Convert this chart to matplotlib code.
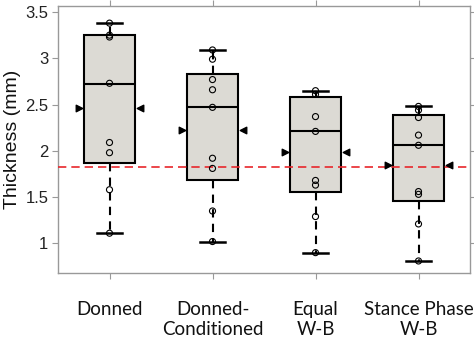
import matplotlib.pyplot as plt
import numpy as np

# conditions and read-off values (mm)
labels = ["Donned", "Donned-\nConditioned", "Equal\nW-B", "Stance Phase\nW-B"]
q1 = [1.87, 1.69, 1.56, 1.46]
med = [2.72, 2.47, 2.21, 2.06]
q3 = [3.25, 2.83, 2.58, 2.39]
whislo = [1.11, 1.02, 0.90, 0.81]
whishi = [3.38, 3.09, 2.65, 2.48]
means = [2.46, 2.23, 1.99, 1.85]
points = [
    [3.38, 3.25, 3.23, 2.73, 2.09, 1.98, 1.58, 1.11],
    [3.09, 2.99, 2.77, 2.66, 2.47, 1.92, 1.81, 1.35, 1.02],
    [2.65, 2.61, 2.37, 2.21, 1.68, 1.63, 1.29, 0.90],
    [2.48, 2.44, 2.36, 2.17, 2.06, 1.56, 1.53, 1.21, 0.81],
]
ref_line = 1.83

plt.rcParams['font.family'] = ['Liberation Sans', 'DejaVu Sans']

fig = plt.figure(figsize=(4.74, 3.38), dpi=100)
ax = fig.add_axes([58/474, 1 - 273/338, 412/474, 267/338])

pos = np.arange(1, len(labels) + 1)
stats = []
for i in range(len(labels)):
    stats.append(dict(med=med[i], q1=q1[i], q3=q3[i], whislo=whislo[i], whishi=whishi[i], fliers=[]))

ax.bxp(stats, positions=pos, widths=0.5, patch_artist=True, showfliers=False,
       boxprops=dict(facecolor="#dcdad4", edgecolor="black", linewidth=1.5),
       medianprops=dict(color="black", linewidth=1.5),
       whiskerprops=dict(color="black", linewidth=1.5, linestyle=(0, (4, 3))),
       capprops=dict(color="black", linewidth=1.8),
       capwidths=0.25, zorder=2)

ax.axhline(ref_line, color="#e8262b", linestyle=(0, (5, 3)), linewidth=1.2, zorder=3)

for i, p in enumerate(pos):
    ax.scatter(np.full(len(points[i]), p), points[i], s=19, facecolors="none",
               edgecolors="black", linewidths=0.8, zorder=4)
    ax.scatter([p - 0.3], [means[i]], marker=">", s=22, color="black", zorder=4)
    ax.scatter([p + 0.3], [means[i]], marker="<", s=22, color="black", zorder=4)

ax.set_xlim(0.5, 4.5)
ax.set_ylim(0.68, 3.565)
ax.set_yticks([1, 1.5, 2, 2.5, 3, 3.5])
ax.set_yticklabels(["1", "1.5", "2", "2.5", "3", "3.5"], fontsize=12, color="#222222")
ax.set_xticks(pos)
ax.set_xticklabels(labels, fontsize=13.5, family=['Lato', 'DejaVu Sans'], color="#111111")
ax.tick_params(axis="x", pad=16)
ax.tick_params(axis="y", pad=3)
ax.tick_params(axis="both", direction="out", length=4, color="#999999",
               top=True, right=True, labeltop=False, labelright=False)
ax.set_ylabel("Thickness (mm)", fontsize=14, color="#111111", labelpad=3)
for s in ax.spines.values():
    s.set_color("#999999")
    s.set_linewidth(1.0)

fig.savefig("out.png", dpi=100)
